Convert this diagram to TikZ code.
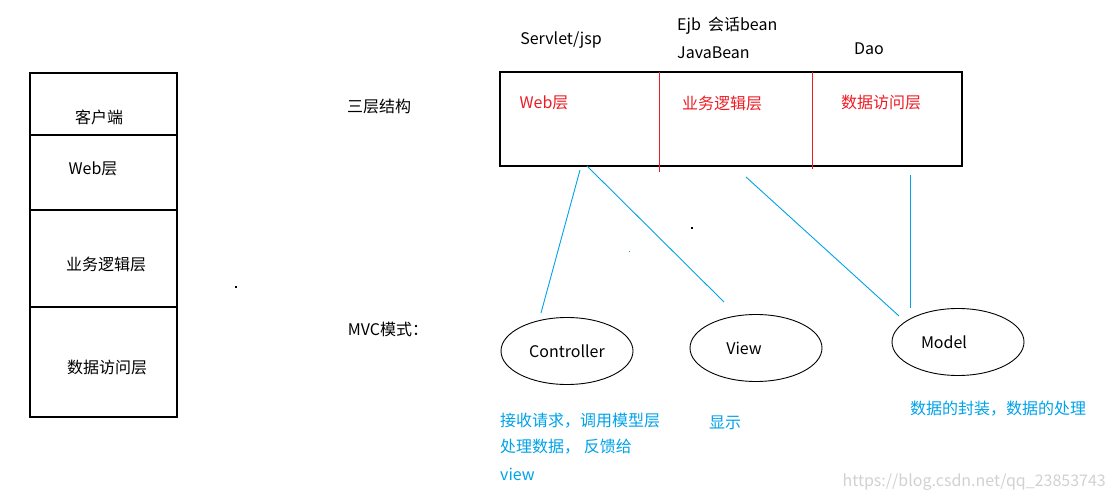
\documentclass[tikz,border=0pt]{standalone}
\usepackage{fontspec}
\setmainfont{Noto Sans CJK SC}
\usetikzlibrary{shapes.geometric}
\definecolor{pblue}{RGB}{0,162,232}
\definecolor{pred}{RGB}{237,28,36}
\tikzset{
  txt/.style={font=\fontsize{16}{19}\selectfont, inner sep=0pt, text=black},
  rtxt/.style={txt, text=pred},
  btxt/.style={txt, text=pblue, anchor=west},
  oval/.style={draw, ellipse, line width=0.9pt, minimum width=132pt, minimum height=67pt, inner sep=0pt, font=\fontsize{16}{19}\selectfont},
  bl/.style={draw=pblue, line width=0.9pt},
  rl/.style={draw=pred, line width=0.9pt},
  kl/.style={draw=black, line width=1.1pt},
}
\begin{document}
\begin{tikzpicture}[x=1pt,y=-1pt]
\useasboundingbox (0,0) rectangle (1114,500);
% left column
\draw[kl] (30,73) rectangle (177,417);
\draw[kl] (30,135) -- (177,135);
\draw[kl] (29,210) -- (177,210);
\draw[kl] (29,307) -- (178,307);
\node[txt] (c1) at (99,117) {客户端};
\node[txt] (c2) at (93,169) {Web层};
\node[txt] (c3) at (106,264) {业务逻辑层};
\node[txt] (c4) at (107,367) {数据访问层};
\fill (235,286) rectangle +(1.5,1.5);
% labels
\node[txt] (three) at (379,106) {三层结构};
\node[txt] (mvc) at (388,329) {MVC模式：};
\node[txt] (servlet) at (561,40) {Servlet/jsp};
\node[txt, anchor=west] (ejb) at (677,26) {Ejb\ \ 会话bean};
\node[txt, anchor=west] (jb) at (677,53) {JavaBean};
\node[txt] (dao) at (869,49) {Dao};
% top box
\draw[kl] (500,72) rectangle (962,166);
\draw[rl] (659,72) -- (659,172);
\draw[rl] (812,72) -- (812,169);
\node[rtxt] (w) at (544,103) {Web层};
\node[rtxt] (b) at (722,103) {业务逻辑层};
\node[rtxt] (d) at (881,102) {数据访问层};
% ellipses
\node[oval] (ctrl) at (567,351) {Controller};
\node[oval] (view) at (756,348) {\hspace*{-24pt}View};
\node[oval] (model) at (958,342) {\hspace*{-28pt}Model};
% connectors
\coordinate (t1) at (580,170);
\coordinate (t2) at (587,166);
\coordinate (t3) at (746,177);
\coordinate (t4) at (910,175);
\coordinate (e1) at (541,313);
\coordinate (e2) at (724,302);
\coordinate (e3) at (899,316);
\coordinate (e4) at (910,308);
\draw[bl] (t1) -- (e1);
\draw[bl] (t2) -- (e2);
\draw[bl] (t3) -- (e3);
\draw[bl] (t4) -- (e4);
\fill (691,227) rectangle +(1.5,1.5);
\fill[pblue] (629,251) rectangle +(0.8,0.8);
% descriptions
\node[btxt] (d1) at (500,421) {接收请求，调用模型层};
\node[btxt] (d2) at (500,447) {处理数据， 反馈给};
\node[btxt] (d3) at (500,474) {view};
\node[btxt] (d4) at (709,423) {显示};
\node[btxt] (d5) at (910,409) {数据的封装，数据的处理};
\node[txt, anchor=east, text=black!18] (wm) at (1106,482) {https://blog.csdn.net/qq\_23853743};
\end{tikzpicture}
\end{document}
